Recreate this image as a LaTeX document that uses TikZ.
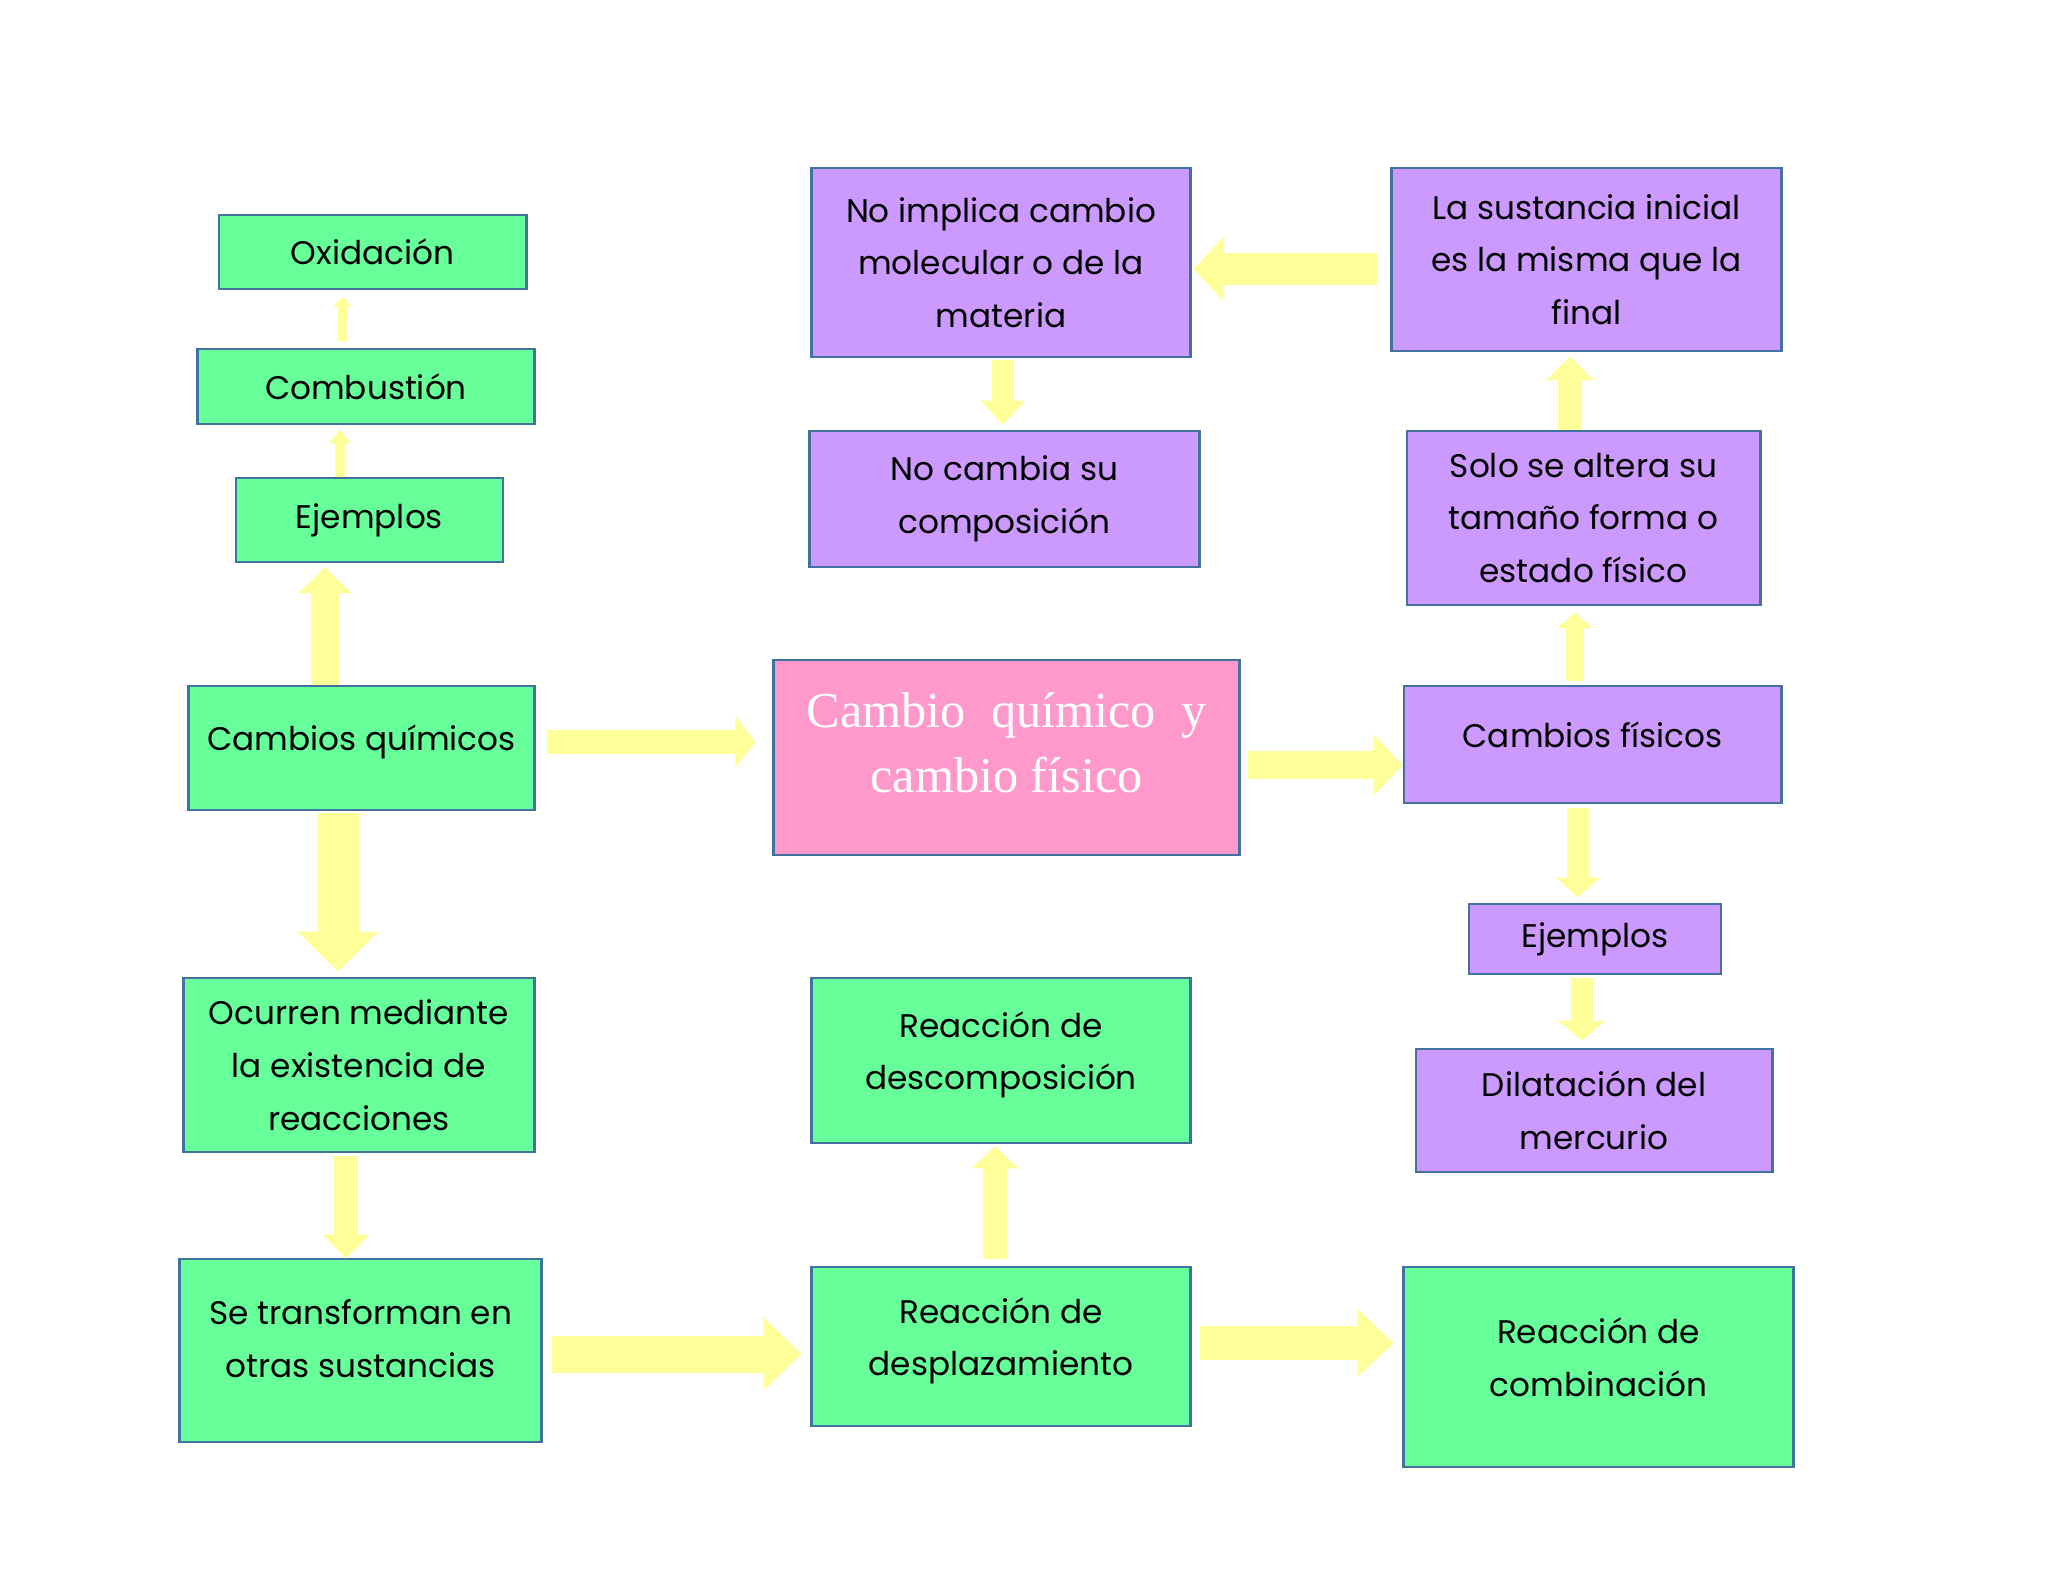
\documentclass[tikz,border=0pt]{standalone}
\usepackage{fontspec}
\setmainfont{Poppins}
\newfontfamily\titulo{Liberation Serif}
\usetikzlibrary{arrows.meta,calc}
\definecolor{verde}{HTML}{66FF99}
\definecolor{lila}{HTML}{CC99FF}
\definecolor{rosa}{HTML}{FF99CC}
\definecolor{amarillo}{HTML}{FFFF99}
\definecolor{borde}{HTML}{41719C}

\begin{document}
\begin{tikzpicture}[
    x=0.01cm, y=-0.01cm,
    caja/.style={draw=borde, line width=0.8pt, align=center, inner sep=0pt, font=\fontsize{9.3}{15}\selectfont},
    quim/.style={caja, fill=verde},
    fis/.style={caja, fill=lila},
    alto/.style={text depth=#1},
    tema/.style={caja, fill=rosa, text=white, text depth=0.3cm, font=\titulo\fontsize{14.3}{18.5}\selectfont},
    flecha/.style n args={3}{draw=amarillo, line width=#1, -{Triangle[width=#2, length=#3, line width=0pt]}}
]
\useasboundingbox (0,0) rectangle (2048,1582);

% cambios quimicos
\node[quim, minimum width=3.07cm, minimum height=0.74cm] (oxid) at (372.5,252) {Oxidación};
\node[quim, minimum width=3.36cm, minimum height=0.75cm] (combu) at (366,386.5) {Combustión};
\node[quim, minimum width=2.67cm, minimum height=0.84cm] (ejq) at (369.5,520) {Ejemplos};
\node[quim, alto=0.2cm, minimum width=3.45cm, minimum height=1.24cm] (cquim) at (361.5,748) {Cambios químicos};
\node[quim, minimum width=3.50cm, minimum height=1.74cm] (ocurren) at (359,1065) {Ocurren mediante\\la existencia de\\reacciones};
\node[quim, alto=0.24cm, minimum width=3.61cm, minimum height=1.83cm] (transf) at (360.5,1350.5) {Se transforman en\\otras sustancias};

% centro
\node[tema, minimum width=4.65cm, minimum height=1.95cm] (tema) at (1006.5,757.5) {\spaceskip=0.5em Cambio químico y\\cambio físico};
\node[fis, minimum width=3.78cm, minimum height=1.89cm] (noimp) at (1001,262.5) {No implica cambio\\molecular o de la\\materia};
\node[fis, minimum width=3.89cm, minimum height=1.36cm] (nocamb) at (1004.5,499) {No cambia su\\composición};
\node[quim, alto=0.2cm, minimum width=3.78cm, minimum height=1.65cm] (descomp) at (1001,1060.5) {Reacción de\\descomposición};
\node[quim, alto=0.2cm, minimum width=3.78cm, minimum height=1.59cm] (despl) at (1001,1346.5) {Reacción de\\desplazamiento};

% cambios fisicos
\node[fis, minimum width=3.89cm, minimum height=1.83cm] (sustan) at (1586.5,259.5) {La sustancia inicial\\es la misma que la\\final};
\node[fis, minimum width=3.53cm, minimum height=1.74cm] (altera) at (1583.5,518) {Solo se altera su\\tamaño forma o\\estado físico};
\node[fis, alto=0.2cm, minimum width=3.77cm, minimum height=1.17cm] (cfis) at (1592.5,744.5) {Cambios físicos};
\node[fis, minimum width=2.52cm, minimum height=0.70cm] (ejf) at (1595,939) {Ejemplos};
\node[fis, minimum width=3.56cm, minimum height=1.23cm] (dilat) at (1594,1110.5) {Dilatación del\\mercurio};
\node[quim, alto=0.2cm, minimum width=3.89cm, minimum height=2.00cm] (combin) at (1598.5,1367) {Reacción de\\combinación};

% flechas
\draw[flecha={0.9mm}{1.8mm}{1.0mm}] ($(combu.north)+(-24,-6)$) -- ($(oxid.south)+(-30,6)$);
\draw[flecha={1.0mm}{2.2mm}{1.4mm}] ($(ejq.north)+(-29.5,0)$) -- ($(combu.south)+(-26,4)$);
\draw[flecha={2.7mm}{5.4mm}{2.6mm}] ($(cquim.north)+(-36.5,0)$) -- ($(ejq.south)+(-44.5,4)$);
\draw[flecha={2.4mm}{5.2mm}{2.0mm}] ($(cquim.east)+(11,-6)$) -- ($(tema.west)+(-17,-15.5)$);
\draw[flecha={4.1mm}{8.1mm}{4.0mm}] ($(cquim.south)+(-23.5,2)$) -- ($(ocurren.north)+(-21,-5)$);
\draw[flecha={2.3mm}{4.7mm}{2.4mm}] ($(ocurren.south)+(-13,3)$) -- ($(transf.north)+(-14.5,1)$);
\draw[flecha={3.7mm}{7.3mm}{3.8mm}] ($(transf.east)+(9,3.5)$) -- ($(despl.west)+(-9,7.5)$);
\draw[flecha={2.4mm}{4.7mm}{2.2mm}] ($(despl.north)+(-6,-7)$) -- ($(descomp.south)+(-6,2)$);
\draw[flecha={3.4mm}{6.8mm}{3.6mm}] ($(despl.east)+(8,-3.5)$) -- ($(combin.west)+(-9,-24)$);
\draw[flecha={2.8mm}{6.2mm}{2.9mm}] ($(tema.east)+(7,7.5)$) -- ($(cfis.west)+(0,20.5)$);
\draw[flecha={1.8mm}{3.6mm}{1.6mm}] ($(cfis.north)+(-17.5,-4)$) -- ($(altera.south)+(-8.5,6)$);
\draw[flecha={2.4mm}{4.8mm}{2.4mm}] ($(altera.north)+(-13.5,0)$) -- ($(sustan.south)+(-16.5,4)$);
\draw[flecha={3.2mm}{6.4mm}{3.0mm}] ($(sustan.west)+(-13,9.5)$) -- ($(noimp.east)+(2,6.5)$);
\draw[flecha={2.2mm}{4.5mm}{2.4mm}] ($(noimp.south)+(2,2)$) -- ($(nocamb.north)+(-1.5,-5)$);
\draw[flecha={2.2mm}{4.4mm}{2.0mm}] ($(cfis.south)+(-14.5,4)$) -- ($(ejf.north)+(-17,-5)$);
\draw[flecha={2.3mm}{4.8mm}{2.0mm}] ($(ejf.south)+(-13,3)$) -- ($(dilat.north)+(-12,-7)$);
\end{tikzpicture}
\end{document}
